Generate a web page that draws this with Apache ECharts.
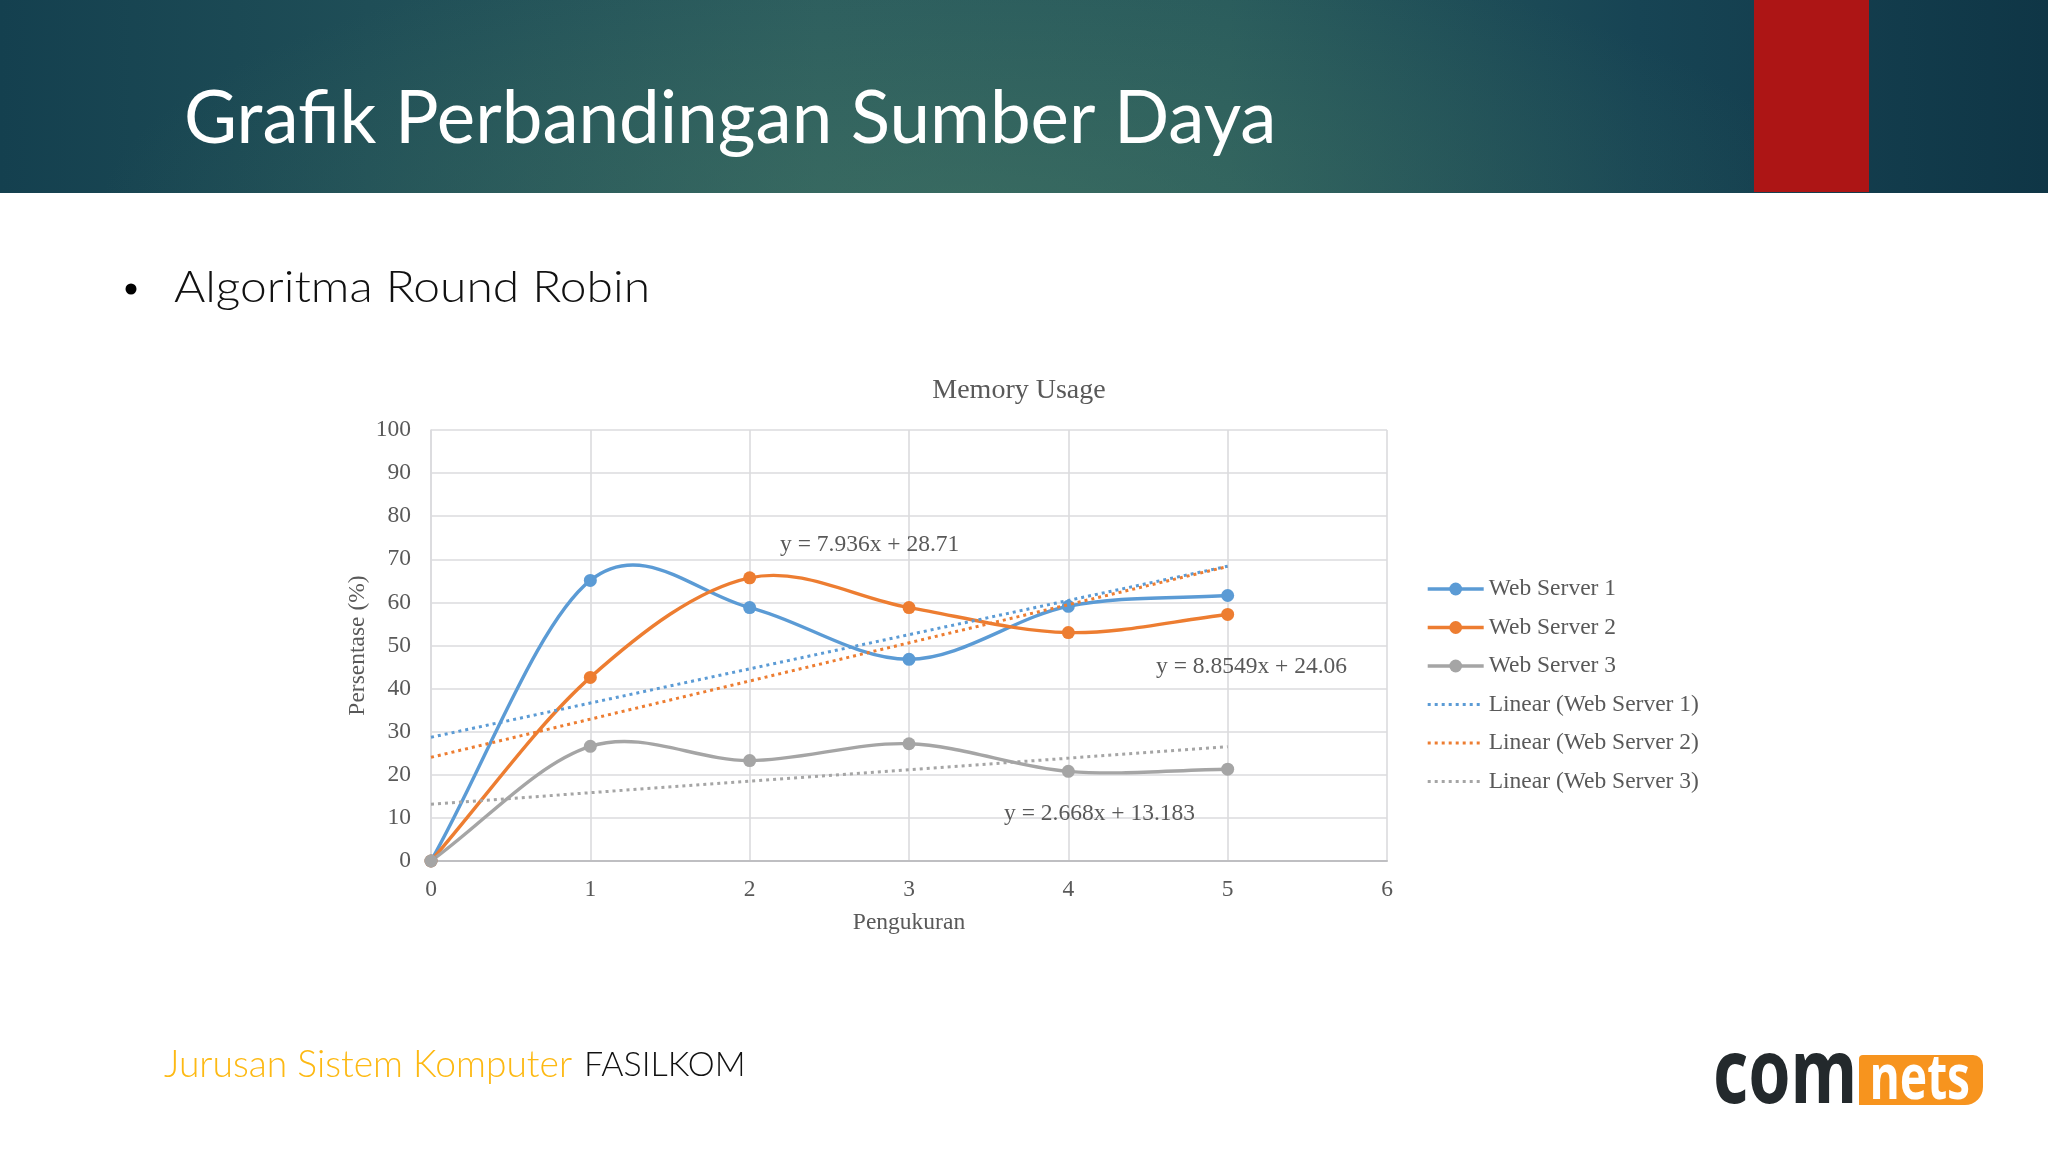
<!DOCTYPE html>
<html>
<head>
<meta charset="utf-8" />
<title>Memory Usage</title>
<style>
	html, body { margin: 0; padding: 0; background: #fff; }
	#main { width: 2048px; height: 1152px; }
</style>
<script src="https://cdn.jsdelivr.net/npm/echarts@6/dist/echarts.min.js"></script>
</head>
<body>
<div id="main"></div>
<script>
// data
const xValues = [0, 1, 2, 3, 4, 5];
const webServer1 = [0, 65.1, 58.8, 46.8, 59.1, 61.6];
const webServer2 = [0, 42.6, 65.7, 58.8, 53.0, 57.2];
const webServer3 = [0, 26.6, 23.3, 27.2, 20.8, 21.3];

const trendX = [0, 5];
const trend1 = [28.71, 68.39];
const trend2 = [24.06, 68.33];
const trend3 = [13.18, 26.52];

const seriesNames = [
	"Web Server 1",
	"Web Server 2",
	"Web Server 3",
	"Linear (Web Server 1)",
	"Linear (Web Server 2)",
	"Linear (Web Server 3)",
];
const equations = ["y = 7.936x + 28.71", "y = 8.8549x + 24.06", "y = 2.668x + 13.183"];

const BLUE = "#5b9bd5";
const ORANGE = "#ed7d31";
const GRAY = "#a5a5a5";
const TEXT = "#595959";
const GRID = "#dbdbde";
const SERIF = "Liberation Serif";
const SANS = "Lato";
const LINE_WIDTH = 3.4;
const DOT_WIDTH = 3;
const DOT_DASH = [3, 4];

// markers only, the line itself comes from curveSeries
function markerSeries(name, ys, color) {
	return {
		name,
		type: "line",
		symbol: "circle",
		symbolSize: 13,
		lineStyle: { color, width: LINE_WIDTH, opacity: 0 },
		itemStyle: { color },
		data: xValues.map((x, i) => [x, ys[i]]),
		z: 3,
	};
}

// the spreadsheet curve overshoots its points, which smooth:true refuses to do,
// so each segment is a bezier placed through the axes
function curveSeries(name, ys, color) {
	return {
		name: `${name} curve`,
		type: "custom",
		coordinateSystem: "cartesian2d",
		clip: false,
		z: 2,
		data: xValues.slice(0, -1).map((x, i) => [x, ys[i]]),
		renderItem(params, api) {
			const i = params.dataIndex;
			const pts = xValues.map((x, k) => api.coord([x, ys[k]]));
			const p0 = pts[i];
			const p1 = pts[i + 1];
			const before = pts[i - 1];
			const after = pts[i + 2];
			const c1 = before
				? [p0[0] + (p1[0] - before[0]) / 6, p0[1] + (p1[1] - before[1]) / 6]
				: [p0[0] + (p1[0] - p0[0]) / 3, p0[1] + (p1[1] - p0[1]) / 3];
			const c2 = after
				? [p1[0] - (after[0] - p0[0]) / 6, p1[1] - (after[1] - p0[1]) / 6]
				: [p1[0] - (p1[0] - p0[0]) / 3, p1[1] - (p1[1] - p0[1]) / 3];
			return {
				type: "bezierCurve",
				shape: { x1: p0[0], y1: p0[1], cpx1: c1[0], cpy1: c1[1], cpx2: c2[0], cpy2: c2[1], x2: p1[0], y2: p1[1] },
				style: { stroke: color, lineWidth: LINE_WIDTH, fill: null, lineCap: "round" },
			};
		},
	};
}

function trendSeries(name, ys, color) {
	return {
		name,
		type: "line",
		symbol: "none",
		lineStyle: { color, width: DOT_WIDTH, type: DOT_DASH },
		itemStyle: { color },
		data: trendX.map((x, i) => [x, ys[i]]),
		z: 4,
	};
}

function eqText(text, x, y) {
	return {
		type: "text",
		x,
		y,
		z: 10,
		style: { text, fill: TEXT, font: `23.5px "${SERIF}"`, textVerticalAlign: "middle" },
	};
}

function legendLine(name, color) {
	return { name, lineStyle: { color, width: LINE_WIDTH, opacity: 1 } };
}

function legendDots(name, color) {
	return { name, itemStyle: { color: "transparent", opacity: 0 }, lineStyle: { color, width: DOT_WIDTH, type: DOT_DASH, opacity: 1 } };
}

const chart = echarts.init(document.getElementById("main"));
chart.setOption({
	animation: false,
	backgroundColor: "#ffffff",
	title: {
		text: "Memory Usage",
		left: 1014,
		top: 372,
		textAlign: "center",
		textStyle: { fontFamily: SERIF, fontSize: 28, fontWeight: "normal", color: TEXT },
	},
	grid: { left: 431, top: 430, width: 956, height: 431, containLabel: false },
	xAxis: {
		type: "value",
		min: 0,
		max: 6,
		interval: 1,
		name: "Pengukuran",
		nameLocation: "middle",
		nameGap: 50,
		nameTextStyle: { fontFamily: SERIF, fontSize: 23.5, color: TEXT },
		axisLine: { lineStyle: { color: "#bfbfc2", width: 2 } },
		axisTick: { show: false },
		axisLabel: { fontFamily: SERIF, fontSize: 23.5, color: TEXT, margin: 17 },
		splitLine: { show: true, lineStyle: { color: GRID, width: 1.6 } },
	},
	yAxis: {
		type: "value",
		min: 0,
		max: 100,
		interval: 10,
		name: "Persentase (%)",
		nameLocation: "middle",
		nameGap: 61,
		nameTextStyle: { fontFamily: SERIF, fontSize: 23.5, color: TEXT },
		axisLine: { show: true, lineStyle: { color: GRID, width: 1.6 } },
		axisTick: { show: false },
		axisLabel: { fontFamily: SERIF, fontSize: 23.5, color: TEXT, margin: 20, padding: [4, 0, 0, 0] },
		splitLine: { show: true, lineStyle: { color: GRID, width: 1.6 } },
	},
	legend: {
		orient: "vertical",
		left: 1426,
		top: 577,
		padding: 0,
		itemWidth: 56,
		itemHeight: 16,
		itemGap: 14.5,
		data: [
			legendLine(seriesNames[0], BLUE),
			legendLine(seriesNames[1], ORANGE),
			legendLine(seriesNames[2], GRAY),
			legendDots(seriesNames[3], BLUE),
			legendDots(seriesNames[4], ORANGE),
			legendDots(seriesNames[5], GRAY),
		],
		textStyle: { fontFamily: SERIF, fontSize: 23.5, color: TEXT },
	},
	series: [
		curveSeries(seriesNames[0], webServer1, BLUE),
		curveSeries(seriesNames[1], webServer2, ORANGE),
		curveSeries(seriesNames[2], webServer3, GRAY),
		markerSeries(seriesNames[0], webServer1, BLUE),
		markerSeries(seriesNames[1], webServer2, ORANGE),
		markerSeries(seriesNames[2], webServer3, GRAY),
		trendSeries(seriesNames[3], trend1, BLUE),
		trendSeries(seriesNames[4], trend2, ORANGE),
		trendSeries(seriesNames[5], trend3, GRAY),
	],
	graphic: [
		// header band
		{
			type: "rect",
			z: 0,
			shape: { x: 0, y: 0, width: 2048, height: 193 },
			style: {
				fill: {
					type: "linear", x: 0, y: 0, x2: 1, y2: 0,
					colorStops: [
						{ offset: 0, color: "#14404f" },
						{ offset: 0.18, color: "#1f4e57" },
						{ offset: 0.4, color: "#2b5c5e" },
						{ offset: 0.6, color: "#285a5c" },
						{ offset: 0.8, color: "#174454" },
						{ offset: 1, color: "#0f3646" },
					],
				},
			},
		},
		// glow along the bottom edge, stretched sideways with scaleX
		{
			type: "rect",
			z: 0,
			scaleX: 3,
			shape: { x: 0, y: 0, width: 683, height: 193 },
			style: {
				fill: {
					type: "radial", x: 0.47, y: 1.15, r: 1.5,
					colorStops: [
						{ offset: 0, color: "rgba(72,122,100,0.5)" },
						{ offset: 1, color: "rgba(72,122,100,0)" },
					],
				},
			},
		},
		{
			type: "rect",
			z: 1,
			shape: { x: 1754, y: 0, width: 115, height: 192 },
			style: { fill: "#ad1515" },
		},
		{
			type: "text",
			x: 184,
			y: 120,
			z: 2,
			style: { text: "Grafik Perbandingan Sumber Daya", fill: "#ffffff", font: `72.7px "${SANS}"`, textVerticalAlign: "middle" },
		},
		// bullet line
		{
			type: "circle",
			z: 2,
			shape: { cx: 131, cy: 289, r: 5.5 },
			style: { fill: "#000000" },
		},
		{
			type: "text",
			x: 174,
			y: 288,
			z: 2,
			scaleX: 1.09,
			originX: 0,
			originY: 0,
			style: { text: "Algoritma Round Robin", fill: "#111111", font: `300 44px "${SANS}"`, textVerticalAlign: "middle" },
		},
		// trendline equations
		eqText(equations[0], 780, 545),
		eqText(equations[1], 1156, 667),
		eqText(equations[2], 1004, 814),
		// footer
		{
			type: "text",
			x: 164,
			y: 1065,
			z: 2,
			style: { text: "Jurusan Sistem Komputer", fill: "#fdb913", font: `300 37.2px "${SANS}"`, textVerticalAlign: "middle" },
		},
		{
			type: "text",
			x: 584,
			y: 1065,
			z: 2,
			style: { text: "FASILKOM", fill: "#111111", font: `300 34px "${SANS}"`, textVerticalAlign: "middle" },
		},
		// logo
		{
			type: "rect",
			z: 2,
			shape: { x: 1859, y: 1055, width: 124, height: 50, r: [4, 10, 18, 0] },
			style: { fill: "#f7941e" },
		},
		{
			type: "text",
			x: 1785,
			y: 1077,
			z: 3,
			scaleY: 1.32,
			originX: 0,
			originY: 0,
			style: { text: "com", fill: "#23292c", font: `bold 68px "Noto Sans"`, textAlign: "center", textVerticalAlign: "middle" },
		},
		{
			type: "text",
			x: 1920,
			y: 1081,
			z: 3,
			scaleY: 1.35,
			originX: 0,
			originY: 0,
			style: { text: "nets", fill: "#ffffff", font: `bold 46px "Noto Sans"`, textAlign: "center", textVerticalAlign: "middle" },
		},
	],
});
</script>
</body>
</html>
